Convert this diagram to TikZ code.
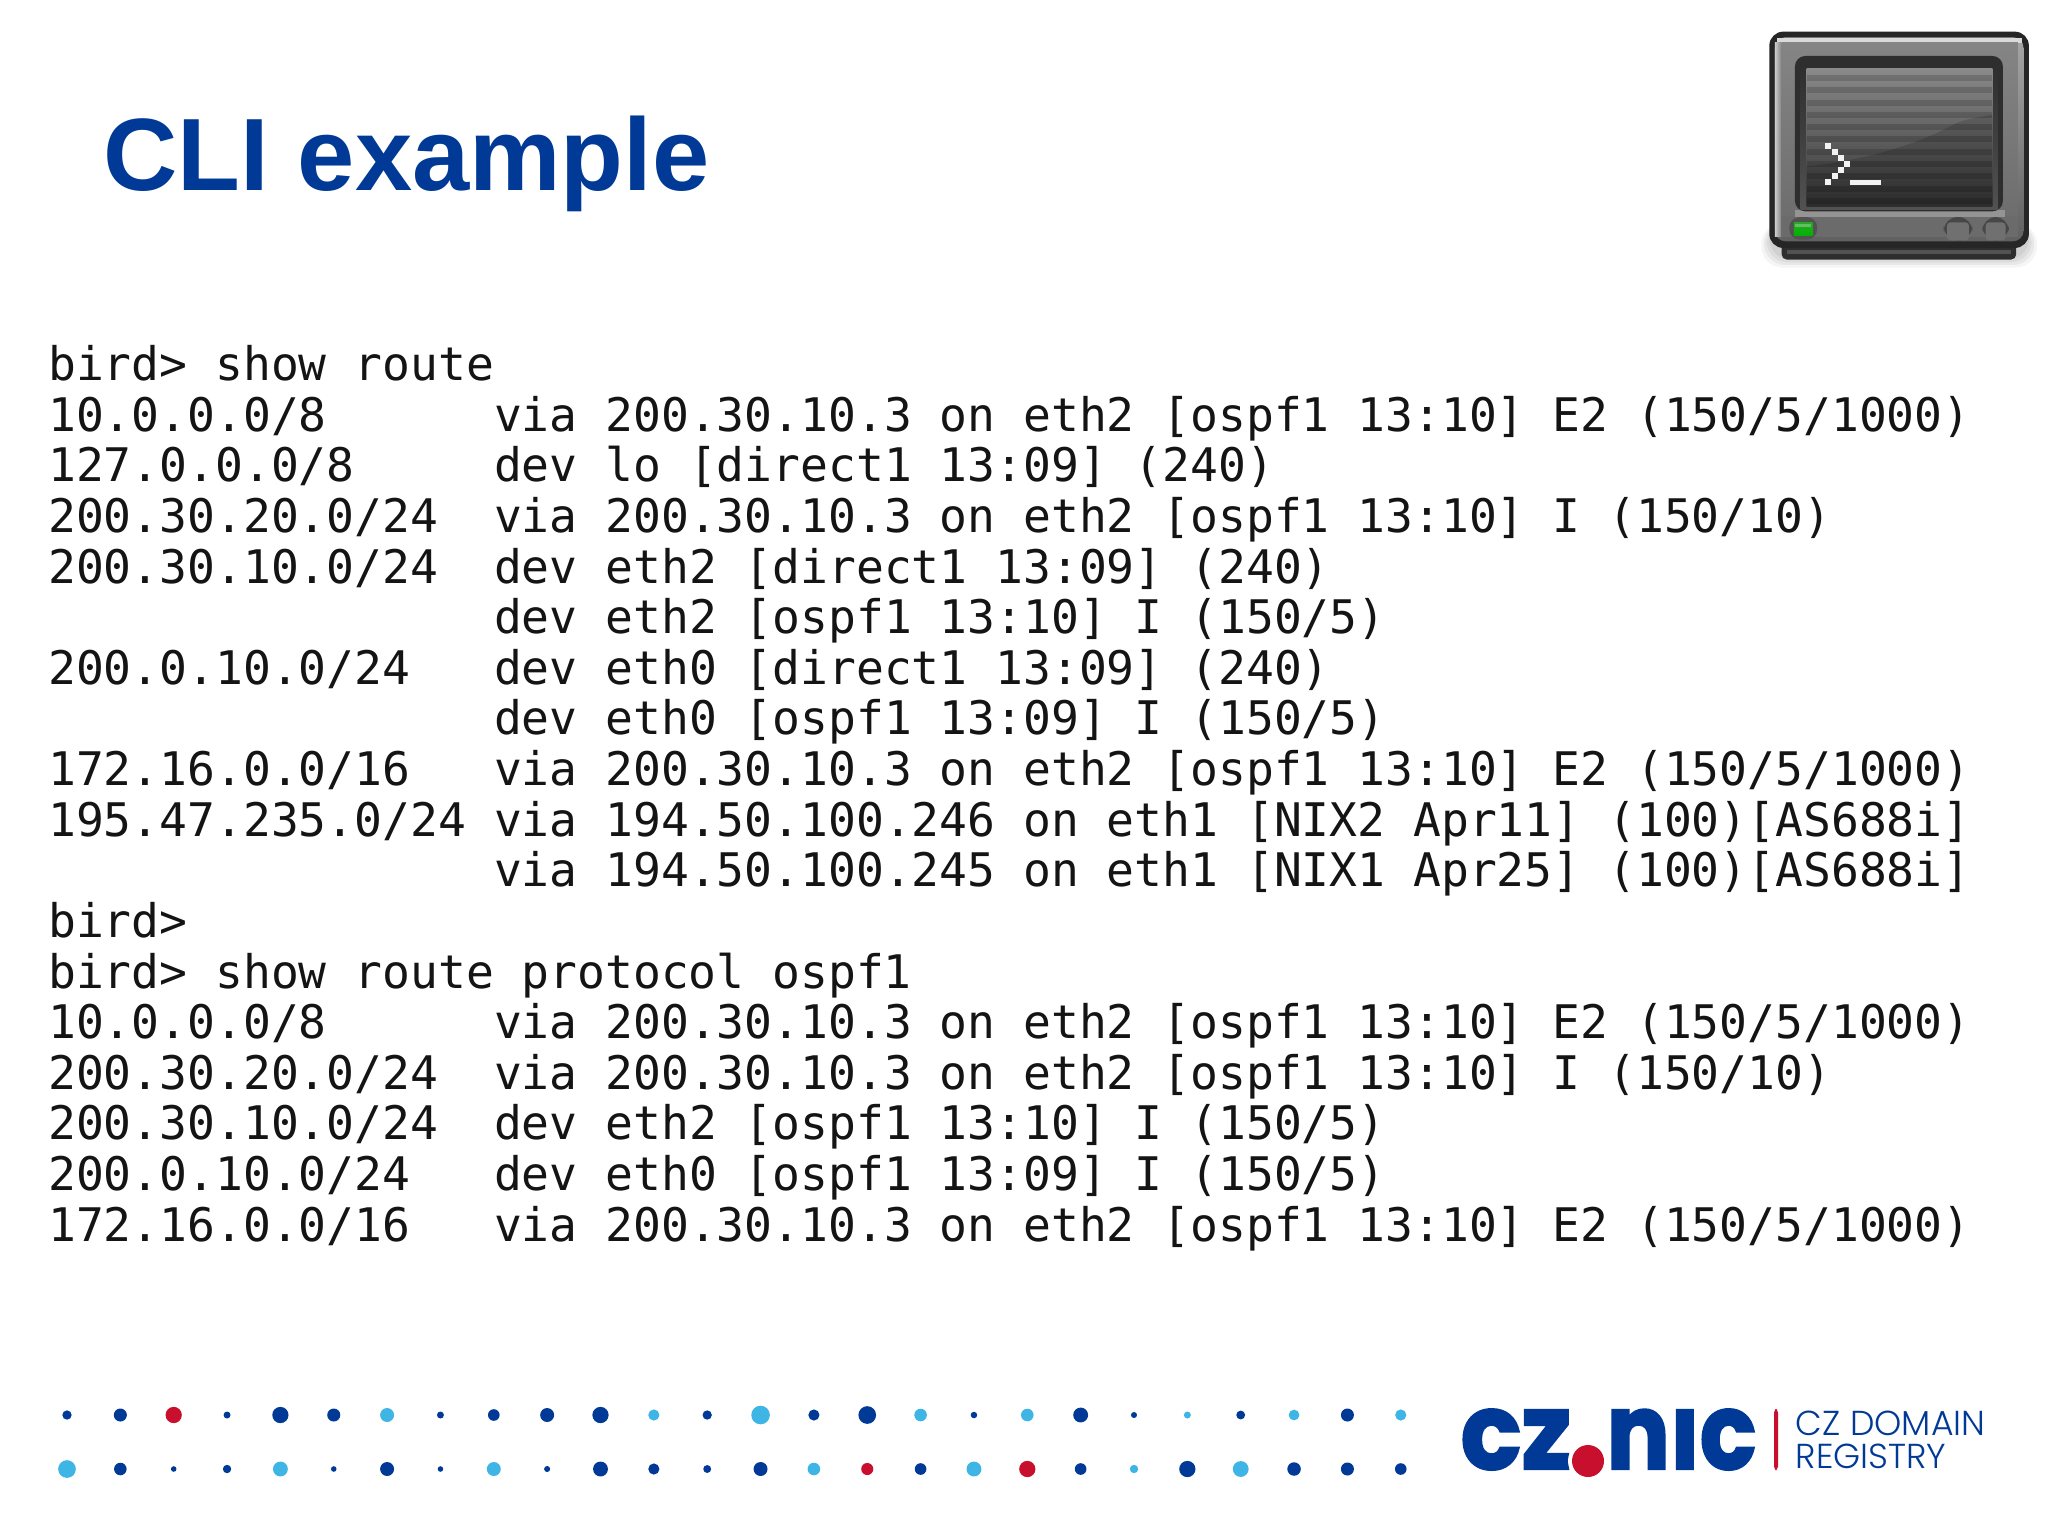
\documentclass[tikz,border=0pt]{standalone}
\usepackage{fontspec}
\usepackage{graphicx}
\setmainfont{Liberation Sans}
\newfontfamily\clifont{DejaVu Sans Mono}
\newfontfamily\logofont[FakeBold=2.2]{Poppins Bold}
\newfontfamily\logothin{Poppins Light}
\definecolor{czblue}{HTML}{003A96}
\definecolor{czcyan}{HTML}{3FB5E5}
\definecolor{czred}{HTML}{C8102E}
\tikzset{
  cliline/.style={anchor=base west,inner sep=0pt,font=\clifont\fontsize{13.16}{14.4}\selectfont,text=black!92},
  dotn/.style={fill=czblue},
  dotc/.style={fill=czcyan},
  dotr/.style={fill=czred},
  regline/.style={anchor=base west,inner sep=0pt,text=czblue,font=\logothin\fontsize{9.85}{12}\selectfont}
}
\newcommand{\cliA}[3]{\node[cliline] (a#1) at (47.5,{380.6+(#1-1)*50.62}) {#2};
  \node[cliline] (b#1) at (493.3,{380.6+(#1-1)*50.62}) {#3};}
\begin{document}
\begin{tikzpicture}[x=0.01cm,y=-0.01cm]
\useasboundingbox (0,0) rectangle (2048,1536);
\fill[white] (0,0) rectangle (2048,1536);
% title
\node[anchor=base west,inner sep=0pt,text=czblue,font=\fontsize{29.25}{32}\selectfont\bfseries] (title) at (103,190) {CLI example};
% CLI text
\cliA{1}{bird> show route}{}
\cliA{2}{10.0.0.0/8}{via 200.30.10.3 on eth2 [ospf1 13:10] E2 (150/5/1000)}
\cliA{3}{127.0.0.0/8}{dev lo [direct1 13:09] (240)}
\cliA{4}{200.30.20.0/24}{via 200.30.10.3 on eth2 [ospf1 13:10] I (150/10)}
\cliA{5}{200.30.10.0/24}{dev eth2 [direct1 13:09] (240)}
\cliA{6}{}{dev eth2 [ospf1 13:10] I (150/5)}
\cliA{7}{200.0.10.0/24}{dev eth0 [direct1 13:09] (240)}
\cliA{8}{}{dev eth0 [ospf1 13:09] I (150/5)}
\cliA{9}{172.16.0.0/16}{via 200.30.10.3 on eth2 [ospf1 13:10] E2 (150/5/1000)}
\cliA{10}{195.47.235.0/24}{via 194.50.100.246 on eth1 [NIX2 Apr11] (100)[AS688i]}
\cliA{11}{}{via 194.50.100.245 on eth1 [NIX1 Apr25] (100)[AS688i]}
\cliA{12}{bird>}{}
\cliA{13}{bird> show route protocol ospf1}{}
\cliA{14}{10.0.0.0/8}{via 200.30.10.3 on eth2 [ospf1 13:10] E2 (150/5/1000)}
\cliA{15}{200.30.20.0/24}{via 200.30.10.3 on eth2 [ospf1 13:10] I (150/10)}
\cliA{16}{200.30.10.0/24}{dev eth2 [ospf1 13:10] I (150/5)}
\cliA{17}{200.0.10.0/24}{dev eth0 [ospf1 13:09] I (150/5)}
\cliA{18}{172.16.0.0/16}{via 200.30.10.3 on eth2 [ospf1 13:10] E2 (150/5/1000)}
% dots row 1
\foreach \i/\w/\k in {0/20/n,1/28/n,2/35/r,3/15/n,4/35/n,5/28/n,6/30/c,7/15/n,8/25/n,9/30/n,10/35/n,11/24/c,12/20/n,
 13/40/c,14/24/n,15/38/n,16/27/c,17/14/n,18/27/c,19/32/n,20/13/n,21/15/c,22/19/n,23/23/c,24/28/n,25/24/c}
  \fill[dot\k] ({67+\i*53.35},1415) circle ({\w/4.3});
% dots row 2
\foreach \i/\w/\k in {0/38/c,1/27/n,2/12/n,3/18/n,4/32/c,5/12/n,6/30/n,7/12/n,8/30/c,9/13/n,10/32/n,11/24/n,12/17/n,
 13/30/n,14/27/c,15/26/r,16/25/n,17/32/c,18/35/r,19/25/n,20/18/c,21/35/n,22/34/c,23/29/n,24/28/n,25/25/n}
  \fill[dot\k] ({67+\i*53.35},1469) circle ({\w/4.3});
% logo
\node[anchor=base west,inner sep=0pt,text=czblue] (cz) at (1460,1469) {\resizebox{31.5pt}{17pt}{\logofont cz}};
\node[anchor=base west,inner sep=0pt,text=czblue] (nic) at (1606,1469) {\resizebox{42.6pt}{17pt}{\logofont n\char"0131 c}};
\fill[white] (1588,1461) circle (20);
\fill[czred] (1588,1461) circle (16);
\fill[czred,rounded corners=1pt] (1774,1409) rectangle (1778,1470);
\node[regline] (reg1) at (1795,1435) {CZ DOMAIN};
\node[regline] (reg2) at (1795,1468) {REGISTRY};
% terminal icon
\begin{scope}[shift={(1740,10)},x=0.003333cm,y=-0.003333cm]
 \foreach \o/\g in {0.05/0,0.05/8,0.05/16,0.04/24}
   \fill[black,opacity=\o,rounded corners=6pt] (88-\g,640) rectangle (868+\g,750+\g);
 \fill[black!82,rounded corners=1.5pt] (125,660) rectangle (830,750);
 \fill[black!68] (140,722) rectangle (815,733);
 \fill[black!85,rounded corners=4pt] (88,65) rectangle (868,715);
 \shade[rounded corners=3pt,top color=black!35,bottom color=black!62] (105,82) rectangle (852,695);
 \fill[black!15] (110,84) rectangle (848,98);
 \shade[left color=black!20,right color=black!50] (105,98) rectangle (125,680);
 \shade[top color=black!48,bottom color=black!58] (125,98) rectangle (835,680);
 \fill[black!58] (125,620) rectangle (835,680);
 \fill[black!42] (165,602) rectangle (795,622);
 \fill[black!82,rounded corners=3pt] (165,138) rectangle (790,605);
 \shade[top color=black!82,bottom color=black!68] (182,165) rectangle (775,600);
 \begin{scope}
  \clip (200,177) rectangle (758,590);
  \shade[top color=black!46,middle color=black!60,bottom color=black!80] (200,177) rectangle (758,590);
  \fill[black,opacity=.14] (200,470) .. controls (400,450) and (560,390) .. (640,345) .. controls (680,325) and (730,320) .. (758,315) -- (758,590) -- (200,590) -- cycle;
  \foreach \s in {0,...,11}
    \fill[black,opacity=.16] (200,{195+\s*37}) rectangle (758,{213+\s*37});
 \end{scope}
 \foreach \px/\py in {265/408,284/427,302/445,321/463,302/482,284/500,265/518}
   \fill[white!95!black] (\px-9,\py-9) rectangle (\px+9,\py+9);
 \fill[white!95!black] (330,510) rectangle (424,527);
 % LED
 \fill[black!68,rounded corners=3pt] (148,622) rectangle (232,690);
 \shade[top color=green!60!black!85,bottom color=green!70!black] (162,640) rectangle (218,678);
 \fill[green!50!white!75!black] (166,644) rectangle (214,652);
 % buttons
 \foreach \a/\b in {612/698,728/808}{
  \fill[black!72,rounded corners=4pt] (\a,622) rectangle (\b,692);
  \fill[rounded corners=1pt,black!56] (\a+10,638) rectangle (\b-10,692);
 }
\end{scope}
\end{tikzpicture}
\end{document}
